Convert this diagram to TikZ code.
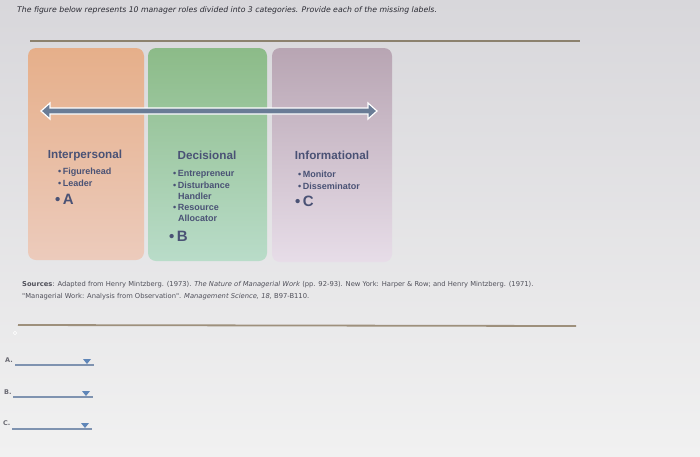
\documentclass[tikz,border=0pt]{standalone}
\usepackage{fontspec}
\setmainfont{Liberation Sans}
\newfontfamily\verd{DejaVu Sans}
\usetikzlibrary{shapes.geometric,calc}
\definecolor{bgtop}{HTML}{D8D7DB}
\definecolor{bgbot}{HTML}{F1F1F1}
\definecolor{orT}{HTML}{E6AF8A}
\definecolor{orB}{HTML}{ECCBBC}
\definecolor{grT}{HTML}{8CBB88}
\definecolor{grB}{HTML}{B9DCC9}
\definecolor{puT}{HTML}{B8A5B3}
\definecolor{puB}{HTML}{E7DDE8}
\definecolor{boxtext}{HTML}{4A5275}
\definecolor{arrowc}{HTML}{6A7C96}
\definecolor{rulec}{HTML}{8C826E}
\definecolor{rule2}{HTML}{9E907C}
\definecolor{linec}{HTML}{7F93B0}
\definecolor{tric}{HTML}{5F86B8}
\definecolor{titlec}{HTML}{2A2A33}
\definecolor{srcc}{HTML}{50505A}
\begin{document}
\begin{tikzpicture}[x=1pt,y=-1pt,
  catbox/.style={rounded corners=8pt},
  head/.style={font=\bfseries\fontsize{11.7}{12}\selectfont,text=boxtext,inner sep=0pt},
  item/.style={font=\bfseries\fontsize{9}{9}\selectfont,text=boxtext,inner sep=0pt,anchor=west},
  big/.style={font=\bfseries\fontsize{15}{15}\selectfont,text=boxtext,inner sep=0pt,anchor=west},
  src/.style={font=\verd\fontsize{6.75}{7}\selectfont,text=srcc,inner sep=0pt,anchor=west},
  ans/.style={font=\verd\bfseries\fontsize{6.5}{7}\selectfont,text=srcc!85,inner sep=0pt,anchor=west},
  ansline/.style={draw=linec,line width=1.1pt},
  tri/.style={fill=tric}
]
% background
\shade[top color=bgtop,bottom color=bgbot] (0,0) rectangle (700,456);
\useasboundingbox (0,0) rectangle (700,456);
% title
\node[font=\verd\itshape\fontsize{7.75}{8}\selectfont,text=titlec,anchor=west,inner sep=0pt] (title) at (17,10) {The figure below represents 10 manager roles divided into 3 categories. Provide each of the missing labels.};
% top rule
\coordinate (r1a) at (30,41);
\coordinate (r1b) at (580,41);
\draw[rulec,line width=2pt] (r1a) -- (r1b);
% boxes
\shade[catbox,top color=orT,bottom color=orB] (28,48) rectangle (144,260);
\shade[catbox,top color=grT,bottom color=grB] (148,48) rectangle (267,261);
\shade[catbox,top color=puT,bottom color=puB] (272,48) rectangle (392,262);
% double arrow
\coordinate (aL) at (41,111);
\coordinate (aR) at (377,111);
\fill[arrowc,draw=white,line width=1.2pt,line join=miter]
  (aL) -- ++(9,-8) -- ++(0,5) -- ($(aR)+(-9,-3)$) -- ++(0,-5) -- (aR) -- ++(-9,8) -- ++(0,-5) -- ($(aL)+(9,3)$) -- ++(0,5) -- cycle;
% Interpersonal
\node[head] (h1) at (85,155) {Interpersonal};
\node[item] (i11) at (58,172) {\textbullet\,Figurehead};
\node[item] (i12) at (58,183) {\textbullet\,Leader};
\node[big] (i13) at (55,199) {\textbullet\,A};
% Decisional
\node[head] (h2) at (207,155) {Decisional};
\node[item] (i21) at (173,174) {\textbullet\,Entrepreneur};
\node[item] (i22) at (173,185) {\textbullet\,Disturbance};
\node[item] (i23) at (178,196) {Handler};
\node[item] (i24) at (173,207) {\textbullet\,Resource};
\node[item] (i25) at (178,218) {Allocator};
\node[big] (i26) at (169,236) {\textbullet\,B};
% Informational
\node[head] (h3) at (332,155) {Informational};
\node[item] (i31) at (298,174) {\textbullet\,Monitor};
\node[item] (i32) at (298,186) {\textbullet\,Disseminator};
\node[big] (i33) at (295,201) {\textbullet\,C};
% sources
\node[src] (s1) at (22,285) {\textbf{Sources}: Adapted from Henry Mintzberg. (1973). \textit{The Nature of Managerial Work} (pp. 92-93). New York: Harper \& Row; and Henry Mintzberg. (1971).};
\node[src] (s2) at (22,297) {"Managerial Work: Analysis from Observation". \textit{Management Science, 18,} B97-B110.};
% bottom rule
\coordinate (r2a) at (18,325);
\coordinate (r2b) at (576,326);
\draw[rule2,line width=1.8pt] (r2a) -- (r2b);
\node[circle,draw=white,inner sep=1.2pt,line width=0.5pt] (dot) at (15,333) {};
% answer blanks
\node[ans] (la) at (5,360) {A.};
\coordinate (la1) at (15,365); \coordinate (la2) at (94,365);
\draw[ansline] (la1) -- (la2);
\fill[tri] (83,359) -- (91,359) -- (87,364) -- cycle;
\node[ans] (lb) at (4,392) {B.};
\coordinate (lb1) at (13,397); \coordinate (lb2) at (93,397);
\draw[ansline] (lb1) -- (lb2);
\fill[tri] (82,391) -- (90,391) -- (86,396) -- cycle;
\node[ans] (lc) at (3,423) {C.};
\coordinate (lc1) at (12,429); \coordinate (lc2) at (92,429);
\draw[ansline] (lc1) -- (lc2);
\fill[tri] (81,423) -- (89,423) -- (85,428) -- cycle;
\end{tikzpicture}
\end{document}
